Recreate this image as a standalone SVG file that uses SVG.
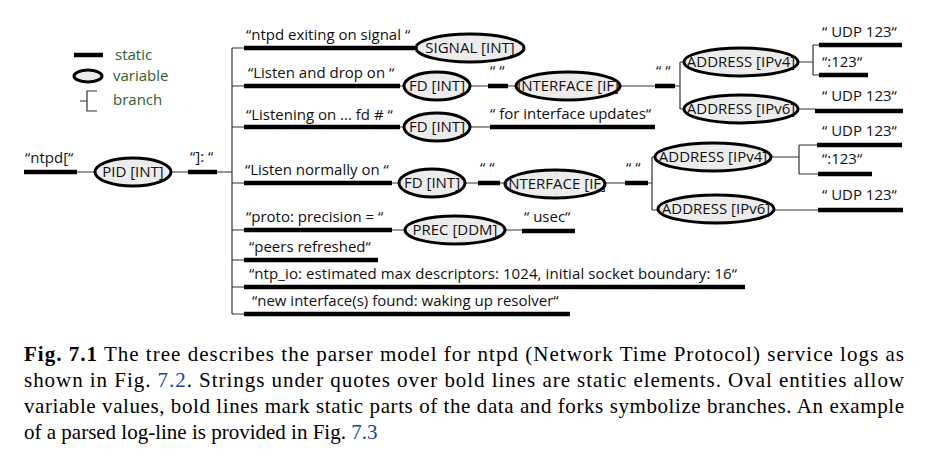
<svg xmlns="http://www.w3.org/2000/svg" width="936" height="458" viewBox="0 0 936 458">
<style>
.t{font-family:"Open Sans","Liberation Sans",Arial,sans-serif;font-size:15px;fill:#111}
.lg{font-family:"Open Sans","Liberation Sans",Arial,sans-serif;font-size:15px;fill:#2e5e2e}
.s{stroke:#000;stroke-width:4.5}
.l{stroke:#333;stroke-width:1.2;fill:none}
.v{fill:#ececec;stroke:#000;stroke-width:3}
.c{font-family:"Liberation Serif","Times New Roman",serif;font-size:21px;fill:#000}
</style>
<rect width="936" height="458" fill="#fff"/>
<g id="legend">
<line class="s" x1="74" y1="55" x2="103" y2="55"/><text class="lg" x="115" y="60">static</text>
<ellipse class="v" cx="88" cy="76" rx="14" ry="6"/><text class="lg" x="113" y="81">variable</text>
<path class="l" d="M80 101H87M97 91H87V111H97"/><text class="lg" x="113" y="105">branch</text>
</g>
<g id="connectors">
<path class="l" d="M77 172H95M171 172H188M217 172H232M232 48V314M232 48H244M232 86H244M232 127H244M232 183H244M232 230H244M232 260H244M232 287H244M232 314H244"/>
<path class="l" d="M400 86H404M470 86H488M508 86H516M620 86H655M675 86H680M680 62V109M680 62H684M680 109H684M798 62H813M813 45V75M813 45H819M813 75H819M798 109H815"/>
<path class="l" d="M400 127H404M470 127H490"/>
<path class="l" d="M392 183H399M465 183H478M500 183H505M605 183H625M648 183H652M652 157V210M652 157H655M652 210H658M771 157H799M799 145V174M799 145H817M799 174H818M774 210H818"/>
<path class="l" d="M392 230H405M505 230H522"/>
</g>
<g id="root"><line class="s" x1="24" y1="172" x2="77" y2="172"/><text class="t" x="25" y="163">“ntpd[“</text></g>
<g id="pid"><ellipse class="v" cx="133" cy="172" rx="38" ry="14"/><text class="t" x="133" y="177" text-anchor="middle">PID [INT]</text></g>
<g id="sep"><line class="s" x1="188" y1="172" x2="217" y2="172"/><text class="t" x="190" y="162">“]: “</text></g>
<g id="b1"><line class="s" x1="244" y1="48" x2="418" y2="48"/><text class="t" x="246" y="40">“ntpd exiting on signal “</text>
<ellipse class="v" cx="470" cy="48" rx="54" ry="14"/><text class="t" x="470" y="53" text-anchor="middle">SIGNAL [INT]</text></g>
<g id="b2"><line class="s" x1="244" y1="86" x2="400" y2="86"/><text class="t" x="248" y="78">“Listen and drop on “</text>
<ellipse class="v" cx="437" cy="86" rx="33" ry="14"/><text class="t" x="437" y="91" text-anchor="middle">FD [INT]</text>
<line class="s" x1="488" y1="86" x2="508" y2="86"/><text class="t" x="490" y="76">“ “</text>
<ellipse class="v" cx="568" cy="86" rx="52" ry="14"/><text class="t" x="568" y="91" text-anchor="middle">INTERFACE [IF]</text>
<line class="s" x1="655" y1="86" x2="675" y2="86"/><text class="t" x="656" y="76">“ “</text>
<ellipse class="v" cx="741" cy="62" rx="57" ry="14"/><text class="t" x="741" y="67" text-anchor="middle">ADDRESS [IPv4]</text>
<ellipse class="v" cx="741" cy="109" rx="57" ry="14"/><text class="t" x="741" y="114" text-anchor="middle">ADDRESS [IPv6]</text>
<line class="s" x1="819" y1="45" x2="902" y2="45"/><text class="t" x="822" y="37">“ UDP 123“</text>
<line class="s" x1="819" y1="75" x2="868" y2="75"/><text class="t" x="822" y="67">“:123“</text>
<line class="s" x1="815" y1="111" x2="903" y2="111"/><text class="t" x="822" y="101">“ UDP 123“</text></g>
<g id="b3"><line class="s" x1="244" y1="127" x2="400" y2="127"/><text class="t" x="246" y="120">“Listening on ... fd # “</text>
<ellipse class="v" cx="437" cy="127" rx="33" ry="14"/><text class="t" x="437" y="132" text-anchor="middle">FD [INT]</text>
<line class="s" x1="490" y1="127" x2="655" y2="127"/><text class="t" x="490" y="119">“ for interface updates“</text></g>
<g id="b4"><line class="s" x1="244" y1="183" x2="392" y2="183"/><text class="t" x="245" y="175">“Listen normally on “</text>
<ellipse class="v" cx="432" cy="183" rx="33" ry="14"/><text class="t" x="432" y="188" text-anchor="middle">FD [INT]</text>
<line class="s" x1="478" y1="183" x2="500" y2="183"/><text class="t" x="480" y="173">“ “</text>
<ellipse class="v" cx="555" cy="184" rx="50" ry="14"/><text class="t" x="555" y="189" text-anchor="middle">INTERFACE [IF]</text>
<line class="s" x1="625" y1="183" x2="648" y2="183"/><text class="t" x="626" y="173">“ “</text>
<ellipse class="v" cx="713" cy="157" rx="58" ry="14"/><text class="t" x="713" y="162" text-anchor="middle">ADDRESS [IPv4]</text>
<ellipse class="v" cx="716" cy="209" rx="58" ry="14"/><text class="t" x="716" y="214" text-anchor="middle">ADDRESS [IPv6]</text>
<line class="s" x1="817" y1="145" x2="902" y2="145"/><text class="t" x="822" y="136">“ UDP 123“</text>
<line class="s" x1="818" y1="174" x2="872" y2="174"/><text class="t" x="822" y="164">“:123“</text>
<line class="s" x1="818" y1="210" x2="903" y2="210"/><text class="t" x="822" y="200">“ UDP 123“</text></g>
<g id="b5"><line class="s" x1="244" y1="230" x2="392" y2="230"/><text class="t" x="246" y="222">“proto: precision = “</text>
<ellipse class="v" cx="455" cy="230" rx="50" ry="14"/><text class="t" x="455" y="235" text-anchor="middle">PREC [DDM]</text>
<line class="s" x1="522" y1="231" x2="575" y2="231"/><text class="t" x="524" y="222">“ usec“</text></g>
<g id="b6"><line class="s" x1="244" y1="260" x2="378" y2="260"/><text class="t" x="249" y="252">“peers refreshed“</text></g>
<g id="b7"><line class="s" x1="244" y1="287" x2="745" y2="287"/><text class="t" x="249" y="279" textLength="488">“ntp_io: estimated max descriptors: 1024, initial socket boundary: 16“</text></g>
<g id="b8"><line class="s" x1="244" y1="314" x2="570" y2="314"/><text class="t" x="252" y="306">“new interface(s) found: waking up resolver“</text></g>
<g id="caption">
<text class="c" x="24" y="361" textLength="880" lengthAdjust="spacing"><tspan font-weight="bold">Fig. 7.1</tspan>  The tree describes the parser model for ntpd (Network Time Protocol) service logs as</text>
<text class="c" x="24" y="387" textLength="880" lengthAdjust="spacing">shown in Fig. <tspan fill="#1a3faa">7.2</tspan>. Strings under quotes over bold lines are static elements. Oval entities allow</text>
<text class="c" x="24" y="413" textLength="880" lengthAdjust="spacing">variable values, bold lines mark static parts of the data and forks symbolize branches. An example</text>
<text class="c" x="24" y="439">of a parsed log-line is provided in Fig. <tspan fill="#1a3faa">7.3</tspan></text>
</g>
</svg>
